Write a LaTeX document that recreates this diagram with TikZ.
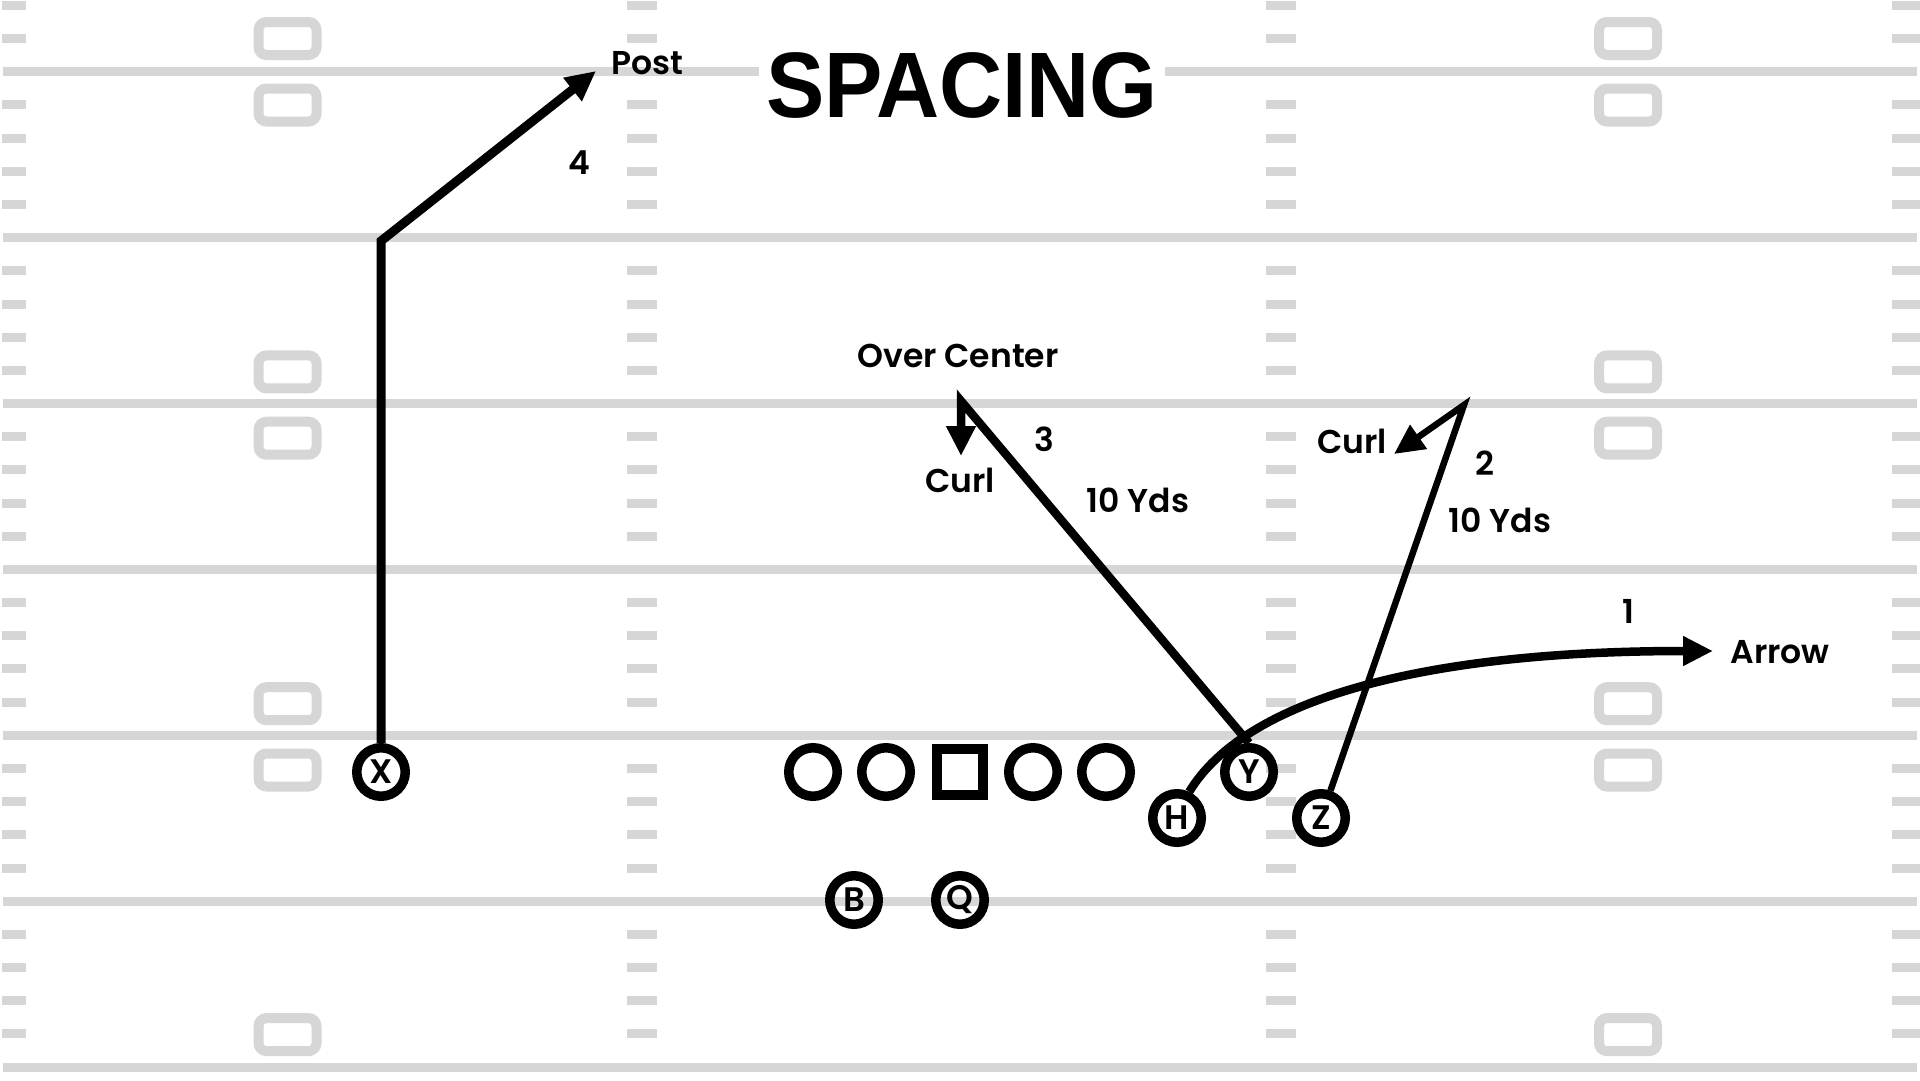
\documentclass[tikz,border=0pt]{standalone}
\usepackage{fontspec}
\usetikzlibrary{arrows.meta}
\newfontfamily\lblfont{Poppins SemiBold}
\newfontfamily\titlefont{Liberation Sans}
\definecolor{fieldgray}{RGB}{214,214,214}
\tikzset{
  yardline/.style={fieldgray, line width=9pt},
  numbox/.style={draw=fieldgray, line width=10pt, rounded corners=8pt},
  player/.style={circle, draw, line width=9.5pt, minimum size=48.5pt, inner sep=0pt,
    font=\lblfont\fontsize{34}{34}\selectfont},
  snapper/.style={rectangle, draw, line width=9.5pt, minimum size=46pt, inner sep=0pt},
  headed/.style={-{Triangle[length=30pt,width=28pt]}},
  lbl/.style={font=\lblfont\fontsize{33}{33}\selectfont, inner sep=0pt},
}
\begin{document}
\begin{tikzpicture}[x=1pt, y=-1pt]
      \useasboundingbox (0,0) rectangle (1920,1080);
      \clip (0,0) rectangle (1920,1080);
      \fill[white] (0,0) rectangle (1920,1080);

      \foreach \k [evaluate=\k as \yl using 71.7+165.9*\k] in {0,...,6} {
        \draw[yardline] (3,\yl) -- (1917,\yl);
        \foreach \j [evaluate=\j as \yh using \yl+33.2*\j] in {-2,-1,1,2}
          \foreach \xa/\xb in {2/26, 627/657, 1266/1296, 1892/1920}
            \fill[fieldgray] (\xa,\yh-4.5) rectangle (\xb,\yh+4.5);
      }
      \foreach \bx in {287.5, 1628}
        \foreach \by in {38.5, 105, 371.9, 438.2, 703.7, 770, 1034.6}
          \draw[numbox] (\bx-29,\by-16.5) rectangle (\bx+29,\by+16.5);

      \node[fill=white, inner xsep=7pt, inner ysep=2pt,
        font=\titlefont\bfseries\fontsize{93}{93}\selectfont] (title) at (962,85)
        {\scalebox{0.94}[1]{SPACING}};

      \node[player] (X) at (381,772) {X};
      \node[player] (lt) at (813,772) {};
      \node[player] (lg) at (886,772) {};
      \node[snapper] (c) at (960,772) {};
      \node[player] (rg) at (1033,772) {};
      \node[player] (rt) at (1106,772) {};
      \node[player] (H) at (1177,818) {H};
      \node[player] (Y) at (1249,772) {Y};
      \node[player] (Z) at (1321,818) {Z};
      \node[player] (B) at (854,900) {B};
      \node[player] (Q) at (960,900) {Q};

      \coordinate (xbreak) at (381,241);
      \coordinate (posttip) at (596,71);
      \coordinate (octurn) at (961,401);
      \coordinate (occurl) at (961,456);
      \coordinate (zturn) at (1464,405);
      \coordinate (zcurl) at (1394,454);
      \coordinate (arrowtip) at (1713,651);

      \draw[line width=9pt, headed] (X) -- (xbreak) -- (posttip);
      \draw[line width=8.5pt, headed] (Y.north) -- (octurn) -- (occurl);
      \draw[line width=6.5pt, headed] (Z) -- (zturn) -- (zcurl);
      \draw[line width=8.5pt, headed] (H.65) .. controls (1245,700) and (1420,651) .. (arrowtip);

      \node[lbl, anchor=base west] (postlbl) at (611,74) {Post};
      \node[lbl, anchor=base] (n4) at (579,174) {4};
      \node[lbl, anchor=base] (oclbl) at (958,367) {Over Center};
      \node[lbl, anchor=base] (n3) at (1044,451) {3};
      \node[lbl, anchor=base] (curla) at (960,492) {Curl};
      \node[lbl, anchor=base] (ydsa) at (1138,512) {10 Yds};
      \node[lbl, anchor=base] (curlb) at (1352,453) {Curl};
      \node[lbl, anchor=base] (n2) at (1485,475) {2};
      \node[lbl, anchor=base] (ydsb) at (1500,532) {10 Yds};
      \node[lbl, anchor=base] (n1) at (1628,623) {1};
      \node[lbl, anchor=base] (arrowlbl) at (1780,663) {Arrow};
\end{tikzpicture}
\end{document}
